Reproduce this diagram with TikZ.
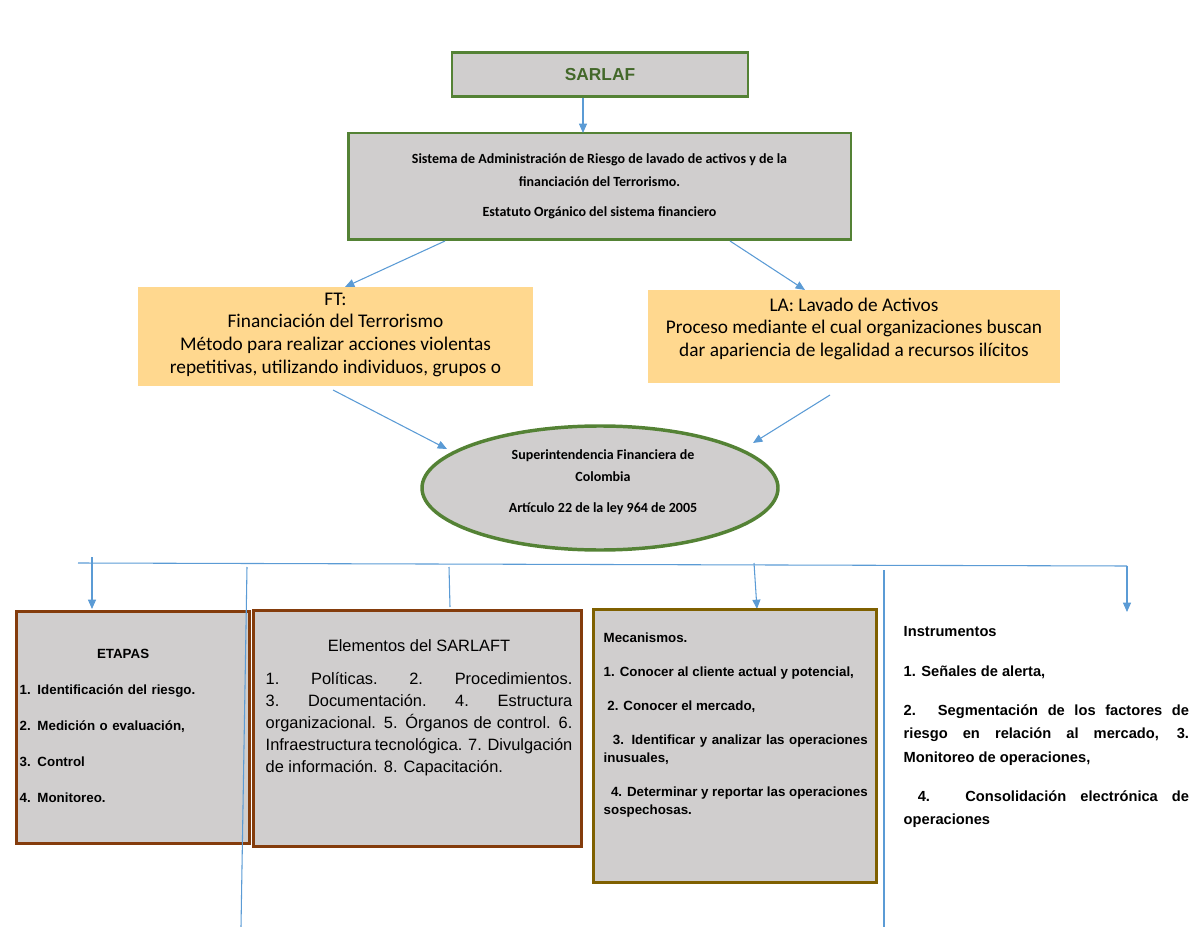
\documentclass[tikz,border=0pt]{standalone}
\usepackage{fontspec}
\setmainfont{Liberation Sans}
\newfontfamily\carl{Carlito}
\usetikzlibrary{arrows.meta}
\definecolor{gfill}{HTML}{D0CECE}
\definecolor{gborder}{HTML}{548235}
\definecolor{ofill}{HTML}{FFD88F}
\definecolor{brown1}{HTML}{843C0C}
\definecolor{olive1}{HTML}{7F6000}
\definecolor{conn}{HTML}{5B9BD5}
\begin{document}
\hyphenpenalty=10000 \exhyphenpenalty=10000
\begin{tikzpicture}[x=0.75pt,y=-0.75pt,
  gbox/.style={draw=gborder,line width=2pt,fill=gfill},
  obox/.style={fill=ofill},
  bbox/.style={draw=brown1,line width=2.2pt,fill=gfill},
  mbox/.style={draw=olive1,line width=2.2pt,fill=gfill},
  con/.style={conn,line width=0.8pt},
  arr/.style={con,-{Triangle[width=6pt,length=7pt]}},
  txt/.style={anchor=north west,align=justify}]
\useasboundingbox (0,0) rectangle (1200,927);
% top
\node[gbox,minimum width=222pt,minimum height=33pt,font=\bfseries\fontsize{13}{15}\selectfont,text=gborder!80!black] (sar) at (600,74.5) {SARLAF};
\node[gbox,minimum width=377pt,minimum height=80pt,align=center,font=\carl\bfseries\fontsize{10.5}{17}\selectfont] (sis) at (599.5,186.5)
 {Sistema de Administración de Riesgo de lavado de activos y de la\\financiación del Terrorismo.\\[6pt]Estatuto Orgánico del sistema financiero};
\draw[arr] (583,98) -- (583,133);
\node[obox,minimum width=296pt,minimum height=74pt] (ft) at (335.5,336.5) {};
\node[align=center,font=\carl\fontsize{14.5}{17}\selectfont,anchor=north] at (335.5,288)
 {FT:\\Financiación del Terrorismo\\Método para realizar acciones violentas\\repetitivas, utilizando individuos, grupos o};
\node[obox,minimum width=309pt,minimum height=70pt] (la) at (854,336.5) {};
\node[align=center,font=\carl\fontsize{14.5}{17}\selectfont,anchor=north] at (854,293)
 {LA: Lavado de Activos\\Proceso mediante el cual organizaciones buscan\\dar apariencia de legalidad a recursos ilícitos};
\coordinate (s1) at (445,241); \coordinate (s2) at (730,241);
\draw[arr] (s1) -- (345,287);
\draw[arr] (s2) -- (805,290);
\draw[gbox,line width=2.6pt] (600,488) ellipse [x radius=178,y radius=62];
\node[align=center,font=\carl\bfseries\fontsize{10.5}{17}\selectfont] (sup) at (603,482)
 {Superintendencia Financiera de\\Colombia\\[6pt]Artículo 22 de la ley 964 de 2005};
\coordinate (f1) at (333,390); \coordinate (l1) at (830,395);
\draw[arr] (f1) -- (447,449);
\draw[arr] (l1) -- (753,443);
% distribution lines
\draw[con] (78,563) -- (1127,566);
\draw[arr] (92,557) -- (92,609);
\draw[con] (449,567) -- (450,607);
\draw[arr] (754,563) -- (757,609);
\draw[con] (884,570) -- (884,927);
\draw[arr] (1127,566) -- (1127,612);
% boxes
\node[bbox,minimum width=175pt,minimum height=174pt] (et) at (133,727.5) {};
\node[bbox,minimum width=246pt,minimum height=177pt] (el) at (417.5,728.5) {};
\node[mbox,minimum width=212pt,minimum height=205pt] (me) at (735,746) {};
\draw[con] (247,567) -- (241,927);
\node[txt,text width=172pt,font=\bfseries\fontsize{10}{12}\selectfont,align=left] at (15,644)
 {\hspace*{58pt}ETAPAS\\[15pt]1. Identificación del riesgo.\\[15pt]2. Medición o evaluación,\\[15pt]3. Control\\[15pt]4. Monitoreo.};
\node[txt,text width=230pt,font=\fontsize{12.3}{16.5}\selectfont] at (261,635)
 {\centering Elementos del SARLAFT\par\vspace{8pt}
 1. Políticas. 2. Procedimientos. 3. Documentación. 4. Estructura organizacional. 5. Órganos de control. 6. Infraestructura tecnológica. 7. Divulgación de información. 8. Capacitación.};
\node[txt,text width=198pt,font=\bfseries\fontsize{10}{13.5}\selectfont] at (599,628)
 {Mecanismos.\par\vspace{12pt}
 1. Conocer al cliente actual y potencial,\par\vspace{12pt}
 \ 2. Conocer el mercado,\par\vspace{12pt}
 \ \ 3. Identificar y analizar las operaciones inusuales,\par\vspace{12pt}
 \ \ 4. Determinar y reportar las operaciones sospechosas.};
\node[txt,text width=214pt,font=\bfseries\fontsize{11}{17.5}\selectfont] at (899,622)
 {Instrumentos\par\vspace{12pt}
 1. Señales de alerta,\par\vspace{12pt}
 2. Segmentación de los factores de riesgo en relación al mercado, 3. Monitoreo de operaciones,\par\vspace{12pt}
 \ 4. Consolidación electrónica de operaciones};
\end{tikzpicture}
\end{document}
